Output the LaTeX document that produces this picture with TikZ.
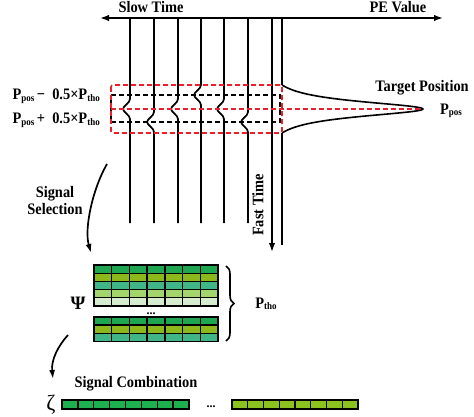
\documentclass[tikz,border=0pt]{standalone}
\usepackage{fontspec}
\setmainfont{Liberation Serif}
\usetikzlibrary{arrows.meta,decorations.pathreplacing}
\definecolor{gA}{RGB}{30,166,80}
\definecolor{gB}{RGB}{141,184,28}
\definecolor{gC}{RGB}{64,181,136}
\definecolor{gD}{RGB}{164,212,108}
\definecolor{gE}{RGB}{214,236,206}
\definecolor{gF}{RGB}{29,176,78}
\definecolor{gG}{RGB}{140,194,30}
\definecolor{dred}{RGB}{232,32,42}
\newcommand\sbs[1]{\raisebox{-1.5pt}{\fontsize{10}{10}\selectfont #1}}
\newcommand\sq[1]{\scalebox{0.9}[1]{#1}}
\begin{document}
\begin{tikzpicture}[x=1pt,y=-1pt,
  lbl/.style={font=\fontsize{16}{17}\selectfont\bfseries, inner sep=0pt},
  sig/.style={line width=1.7pt, black},
  axisline/.style={line width=1.7pt, black},
  tip/.style={-{Latex[length=9pt,width=6.5pt]}},
  rdash/.style={dred, line width=1.6pt, dash pattern=on 5pt off 3pt},
  kdash/.style={black, line width=1.4pt, dash pattern=on 5pt off 3pt},
  cell/.style={draw=black, line width=1.3pt},
  curvearrow/.style={line width=1.7pt, -{Latex[length=9pt,width=6pt]}}]
\useasboundingbox (0,0) rectangle (474,417);

% top axis
\coordinate (axL) at (100,18);
\coordinate (axR) at (443,18);
\draw[axisline, {Latex[length=9pt,width=6.5pt]}-{Latex[length=9pt,width=6.5pt]}] (axL) -- (axR);
\node[lbl] (slow) at (151,7) {\sq{Slow Time}};
\node[lbl] (pe) at (398,7) {\sq{PE Value}};

% signal lines with bumps
\foreach \x/\c in {130/109,154/122,178/109,201/95,224/109,248/122}
  \draw[sig] (\x,18) -- (\x,\c-10) .. controls (\x,\c-6) and (\x-7,\c-3) .. (\x-7,\c)
     .. controls (\x-7,\c+3) and (\x,\c+6) .. (\x,\c+10) -- (\x,223);

% fast time arrow
\coordinate (ftT) at (272,18);
\coordinate (ftB) at (272,252);
\draw[axisline, tip] (ftT) -- (ftB);
\node[lbl, rotate=90] (fast) at (258,205) {\sq{Fast Time}};

% PE baseline and peak
\draw[axisline] (282,18) -- (282,85);
\draw[axisline] (282,133) -- (282,245);
\draw[line width=1.6pt] plot[domain=-24:24, samples=80, smooth]
  ({282+141*((1/(1+(\x/9.5)^2))-0.135)/0.865}, {109+\x});

% dashed boxes
\draw[kdash] (111,95) -- (280,95) -- (280,122) -- (111,122) -- cycle;
\draw[rdash, rounded corners=2pt] (111,85) rectangle (282,133);
\draw[rdash] (111,109) -- (423,109);

% labels
\node[lbl, anchor=east] (lm) at (100,96) {\sq{P\sbs{pos}\,−\ \ 0.5×P\sbs{tho}}};
\node[lbl, anchor=east] (lp) at (100,120) {\sq{P\sbs{pos}\,+\ \ 0.5×P\sbs{tho}}};
\node[lbl] (target) at (422,88) {\sq{Target Position}};
\node[lbl] (ppos) at (451,111) {\sq{P\sbs{pos}}};

% signal selection
\node[lbl, align=center] (sel) at (55,201) {\sq{Signal}\\[0pt]\sq{Selection}};
\coordinate (a1s) at (107,164);
\coordinate (a1e) at (91,253);
\draw[curvearrow] (a1s) .. controls (93,188) and (84,228) .. (a1e);

% matrix
\foreach \j/\col in {0/gA,1/gB,2/gC,3/gD,4/gE}
  \foreach \i in {0,...,6}
    \draw[cell, fill=\col] ({94+\i*17.714},{265+\j*8.2}) rectangle ++(17.714,8.2);
\draw[line width=1.6pt] (94,265) rectangle (218,306);
\foreach \j/\col in {0/gA,1/gB,2/gC}
  \foreach \i in {0,...,6}
    \draw[cell, fill=\col] ({94+\i*17.714},{317+\j*8.1}) rectangle ++(17.714,8.1);
\draw[line width=1.6pt] (94,317) rectangle (218,341.3);
\node[font=\fontsize{12}{12}\selectfont\bfseries, inner sep=0pt, anchor=base] (dots1) at (151,314) {...};
\node[font=\fontsize{19}{19}\selectfont\bfseries, inner sep=0pt] (psi) at (78,303) {Ψ};
\draw[line width=1.6pt, decorate, decoration={brace, amplitude=8pt}] (226,266) -- (226,341);
\node[lbl] (ptho) at (266,304) {\sq{P\sbs{tho}}};

% signal combination
\coordinate (a2s) at (68,335);
\coordinate (a2e) at (53,379);
\draw[curvearrow] (a2s) .. controls (58,346) and (51,360) .. (a2e);
\node[lbl] (comb) at (136,384) {\sq{Signal Combination}};
\node[font=\fontsize{22}{22}\selectfont, inner sep=0pt] (zeta) at (51,405) {ζ};
\foreach \i in {0,...,7}
  \draw[cell, fill=gF] ({62+\i*15.875},400) rectangle ++(15.875,9);
\draw[line width=1.6pt] (62,400) rectangle (189,409);
\node[font=\fontsize{12}{12}\selectfont\bfseries, inner sep=0pt, anchor=base] (dots2) at (211,407) {...};
\foreach \i in {0,...,7}
  \draw[cell, fill=gG] ({232+\i*15.75},400) rectangle ++(15.75,9);
\draw[line width=1.6pt] (232,400) rectangle (358,409);
\end{tikzpicture}
\end{document}
